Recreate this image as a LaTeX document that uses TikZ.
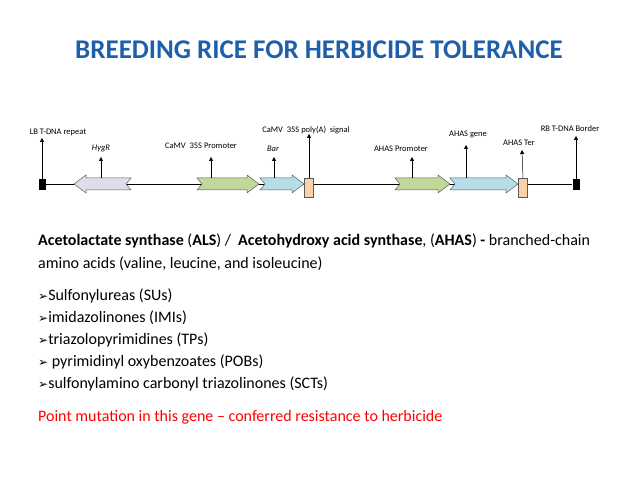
\documentclass[tikz,border=0pt]{standalone}
\usepackage{fontspec}
\setmainfont{Carlito}
\newfontfamily\dvfont{DejaVu Sans}
\usetikzlibrary{arrows.meta}
\definecolor{tblue}{RGB}{31,95,170}
\definecolor{pgreen}{RGB}{196,215,155}
\definecolor{pblue}{RGB}{183,222,232}
\definecolor{pgray}{RGB}{222,222,232}
\definecolor{ppeach}{RGB}{250,210,170}
\newcommand\rarrow[3]{\draw[fill=#3,draw=gray!70!black,line width=0.5pt] (#1,178)--(#2-12,178)--(#2-12,175)--(#2,184)--(#2-12,193)--(#2-12,190)--(#1,190)--(#1+5,184)--cycle;}
\newcommand\bulsym{{\dvfont\fontsize{12}{13}\selectfont ➢}}
\begin{document}
\begin{tikzpicture}[x=1pt,y=-1pt,
  lbl/.style={font=\fontsize{8.5}{9}\selectfont,anchor=south,inner sep=1pt},
  ptr/.style={-{Triangle[width=4pt,length=4pt]},line width=0.5pt},
  body/.style={anchor=west,font=\fontsize{16}{19}\selectfont,inner sep=0pt}]
\useasboundingbox (0,0) rectangle (638,478);
\node[font=\fontsize{27}{30}\selectfont\bfseries,text=tblue] (title) at (319,50) {BREEDING RICE FOR HERBICIDE TOLERANCE};
% backbone
\coordinate (bl) at (46,184); \coordinate (br) at (572,184);
\draw[line width=0.6pt] (bl)--(br);
% HygR (left pointing)
\draw[fill=pgray,draw=gray!70!black,line width=0.5pt] (131,178)--(86,178)--(86,175)--(74,184)--(86,193)--(86,190)--(131,190)--(126,184)--cycle;
\rarrow{197}{259}{pgreen}
\rarrow{260}{304}{pblue}
\rarrow{395}{450}{pgreen}
\rarrow{450}{518}{pblue}
\node[draw=gray!70!black,fill=ppeach,minimum width=9pt,minimum height=19pt,inner sep=0pt] (pa) at (309,188) {};
\node[draw=gray!70!black,fill=ppeach,minimum width=9pt,minimum height=19pt,inner sep=0pt] (ter) at (523,188) {};
\node[fill=black,minimum width=7pt,minimum height=11pt,inner sep=0pt] (lb) at (42,185) {};
\node[fill=black,minimum width=7pt,minimum height=11pt,inner sep=0pt] (rb) at (576,185) {};
% labels
\node[lbl] (llb) at (58,137) {LB T-DNA repeat};
\node[lbl,font=\fontsize{8.5}{9}\selectfont\itshape] (lhyg) at (101,153) {HygR};
\node[lbl] (lcp) at (201,150) {CaMV\ \ 35S Promoter};
\node[lbl,font=\fontsize{8.5}{9}\selectfont\itshape] (lbar) at (273,153) {Bar};
\node[lbl] (lpa) at (306,135) {CaMV\ \ 35S poly(A)\ \ signal};
\node[lbl] (lap) at (401,153) {AHAS Promoter};
\node[lbl] (lag) at (468,139) {AHAS gene};
\node[lbl] (lat) at (519,147) {AHAS Ter};
\node[lbl] (lrb) at (570,133) {RB T-DNA Border};
% pointers
\draw[ptr] (lb.north) -- (42,138);
\draw[ptr] (101,178) -- (101,157);
\draw[ptr] (211,178) -- (211,157);
\draw[ptr] (274,178) -- (274,157);
\draw[ptr] (pa.north) -- (309,134);
\draw[ptr] (412,178) -- (412,157);
\draw[ptr] (466,178) -- (466,145);
\draw[ptr] (ter.north) -- (522,150);
\draw[ptr] (rb.north) -- (576,136);
% body text
\node[body] (t1) at (38,241) {\textbf{Acetolactate synthase} (\textbf{ALS}) /\ \ \textbf{Acetohydroxy acid synthase}, (\textbf{AHAS}) \textbf{-} branched-chain};
\node[body] (t2) at (38,264) {amino acids (valine, leucine, and isoleucine)};
\node[body] (t3) at (38,296) {\bulsym Sulfonylureas (SUs)};
\node[body] (t4) at (38,318) {\bulsym imidazolinones (IMIs)};
\node[body] (t5) at (38,340) {\bulsym triazolopyrimidines (TPs)};
\node[body] (t6) at (38,362) {\bulsym\ pyrimidinyl oxybenzoates (POBs)};
\node[body] (t7) at (38,384) {\bulsym sulfonylamino carbonyl triazolinones (SCTs)};
\node[body,text=red] (t8) at (38,417) {Point mutation in this gene – conferred resistance to herbicide};
\end{tikzpicture}
\end{document}
